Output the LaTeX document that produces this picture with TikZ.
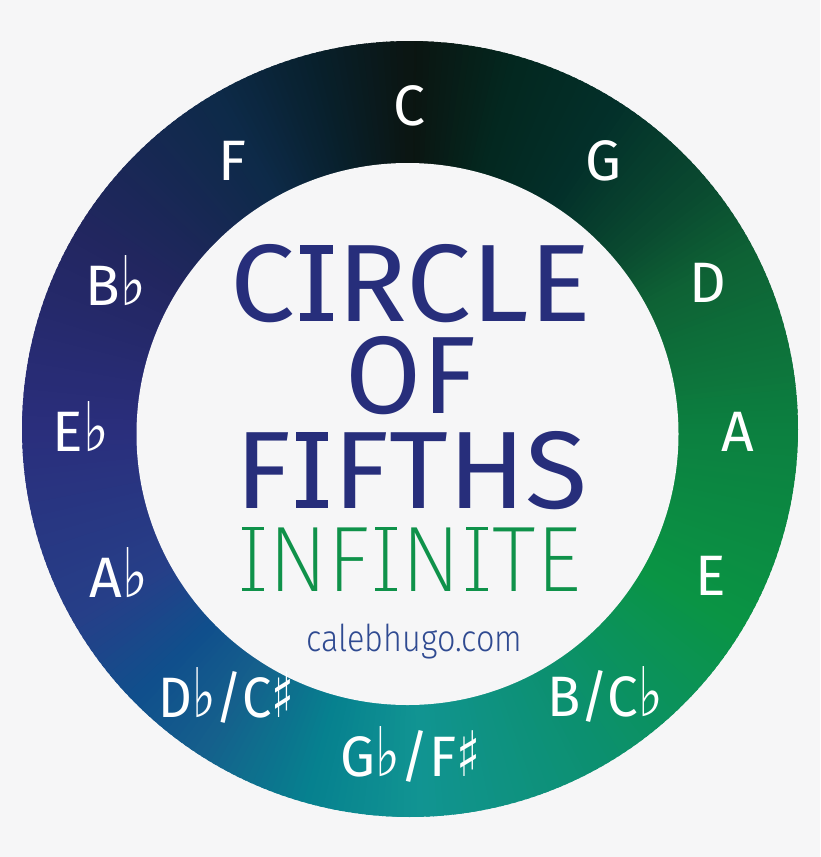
\documentclass[tikz,border=0pt]{standalone}
\usepackage{fontspec}
\setmainfont{Fira Sans}
\newfontfamily\lightf{Fira Sans ExtraLight}
\newfontfamily\webf{Fira Sans Light}
\newfontfamily\symf{DejaVu Sans}
\newcommand{\fl}{{\symf\scalebox{.95}[1.2]{♭}}}
\newcommand{\shp}{{\symf\scalebox{.9}[1.1]{♯}}}
% capital I with slab bars, as the reference's typeface draws it
\newcommand{\slabI}[4]{\hbox{\hskip #2\rlap{\rule{#1}{#3}}\rlap{\raisebox{\dimexpr #4-#3\relax}{\rule{#1}{#3}}}\hbox to #1{\hss I\hss}\hskip #2}}
\newcommand{\serifI}{\slabI{31pt}{5pt}{8.5pt}{75.8pt}}
\newcommand{\thinI}{\slabI{23pt}{5pt}{3.4pt}{64.1pt}}
\definecolor{bgc}{HTML}{F6F6F7}
\definecolor{navy}{HTML}{272E7B}
\definecolor{leaf}{HTML}{0F924A}
\definecolor{web}{HTML}{2F4A91}
\tikzset{
  keylabel/.style={text=white,anchor=base,inner sep=0pt,font=\fontsize{57}{57}\selectfont},
  titleline/.style={text=navy,anchor=base,inner sep=0pt,font=\fontsize{110}{110}\selectfont},
  subline/.style={text=leaf,anchor=base,inner sep=0pt,font=\lightf\fontsize{93}{93}\selectfont},
  webline/.style={text=web,anchor=base,inner sep=0pt,font=\webf\fontsize{37}{37}\selectfont}
}
\begin{document}
\begin{tikzpicture}[x=1pt,y=-1pt]
\useasboundingbox (0,0) rectangle (820,857);
\fill[bgc] (0,0) rectangle (820,857);
\coordinate (oc) at (410,429);
\coordinate (ic) at (407.5,434);
\definecolor{s0}{HTML}{0B1511}
\definecolor{s1}{HTML}{03271F}
\definecolor{s2}{HTML}{03302A}
\definecolor{s3}{HTML}{0A4A30}
\definecolor{s4}{HTML}{0E6235}
\definecolor{s5}{HTML}{0C8040}
\definecolor{s6}{HTML}{0A9444}
\definecolor{s7}{HTML}{0C9070}
\definecolor{s8}{HTML}{119492}
\definecolor{s9}{HTML}{06818F}
\definecolor{s10}{HTML}{15608C}
\definecolor{s11}{HTML}{104F8C}
\definecolor{s12}{HTML}{263F88}
\definecolor{s13}{HTML}{2A2E7C}
\definecolor{s14}{HTML}{222660}
\definecolor{s15}{HTML}{0D2A48}
\definecolor{s16}{HTML}{08202C}
\definecolor{s17}{HTML}{0B1511}
\foreach \aa/\ab/\ca/\cb in {0/15/s0/s1,15/32/s1/s2,32/50/s2/s3,50/62/s3/s4,62/90/s4/s5,90/120/s5/s6,120/150/s6/s7,150/178/s7/s8,178/195/s8/s9,195/212/s9/s10,212/225/s10/s11,225/240/s11/s12,240/270/s12/s13,270/300/s13/s14,300/330/s14/s15,330/345/s15/s16,345/360/s16/s17}{
  \pgfmathtruncatemacro{\last}{\ab-1}
  \foreach \t in {\aa,...,\last}{
    \pgfmathsetmacro{\p}{100*(\ab-\t)/(\ab-\aa)}
    \pgfmathsetmacro{\tb}{\t+1.6}
    \fill[fill={\ca!\p!\cb}] (oc) -- ++({sin(\t)*388},{-cos(\t)*388}) arc[start angle={\t-90},end angle={\tb-90},radius=388] -- cycle;
  }
}
\fill[bgc] (ic) circle[radius=271];
\node[keylabel] (kc) at (409,125) {C};
\node[keylabel] (kg) at (603,180) {G};
\node[keylabel] (kd) at (708,302) {D};
\node[keylabel] (ka) at (738,451) {A};
\node[keylabel] (ke) at (711,595) {E};
\node[keylabel] (kb) at (605,716) {\scalebox{.96}[1]{B/C\fl}};
\node[keylabel] (kgb) at (410.5,776) {\scalebox{.97}[1]{G\fl/F\shp}};
\node[keylabel] (kdb) at (226.5,717) {\scalebox{.92}[1]{D\fl/C\shp}};
\node[keylabel] (kab) at (118.5,597) {A\fl};
\node[keylabel] (keb) at (81,451) {E\fl};
\node[keylabel] (kbb) at (115.5,305) {B\fl};
\node[keylabel] (kf) at (232,180) {F};
\node[titleline] (t1) at (410.5,321) {\scalebox{1.05}[1]{C\serifI RCLE}};
\node[titleline] (t2) at (411,413) {OF};
\node[titleline] (t3) at (411.5,508) {\scalebox{1.035}[1]{F\serifI FTHS}};
\node[subline] (t4) at (409,591) {\scalebox{.955}[1]{\thinI NF\thinI N\thinI TE}};
\node[webline] (t5) at (414.5,651) {\scalebox{.875}[1]{calebhugo.com}};
\end{tikzpicture}
\end{document}
